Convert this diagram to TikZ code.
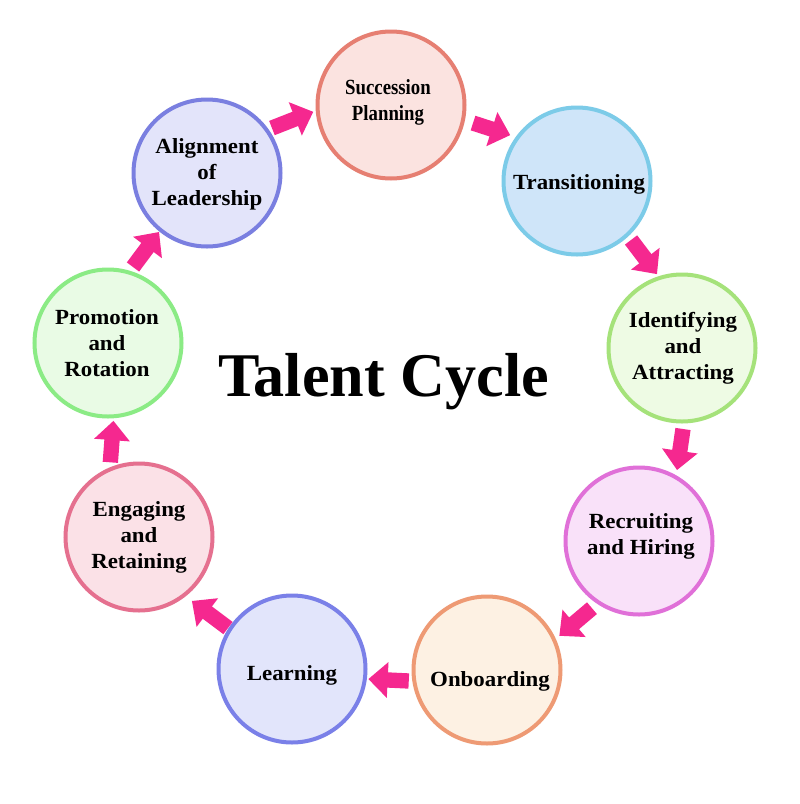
\documentclass[tikz,border=0pt]{standalone}
\usepackage{fontspec}
\setmainfont{Liberation Serif}
\newfontfamily\labelfont[FakeStretch=1.06]{Liberation Serif}
\newfontfamily\narrowfont[FakeStretch=0.87]{Liberation Serif}
\usetikzlibrary{arrows.meta}
\definecolor{arrowpink}{HTML}{F5288F}
\tikzset{
  cyc/.style 2 args={circle,draw=#1,fill=#2,line width=3pt,minimum size=147*0.75pt,inner sep=0pt},
  cyctext/.style={align=center,inner sep=0pt,text=black,font=\labelfont\fontsize{16.2}{19.5}\selectfont\bfseries},
  titletext/.style={inner sep=0pt,text=black,font=\fontsize{46.6}{50}\selectfont\bfseries},
  blockarrow/.style={draw=arrowpink,line width=11.5pt,
    -{Triangle[length=14.5pt,width=26pt,fill=arrowpink]}}
}
\newcommand{\cyclenode}[8]{%
  \definecolor{#1stroke}{HTML}{#4}\definecolor{#1fill}{HTML}{#5}%
  \node[cyc={#1stroke}{#1fill}] (#1) at (#2,-#3) {};
  \node[cyctext] (#1t) at (#6,-#7) {#8};}
\newcommand{\cycarrow}[6]{%
  \draw[blockarrow] ([shift={(#2:#3)}]#1.center) -- ([shift={(#5:#6)}]#4.center);}
\begin{document}
\begin{tikzpicture}[x=0.75pt,y=0.75pt]
\useasboundingbox[fill=white] (0,0) rectangle (800,-804);
\cyclenode{S}{391}{105}{E67F72}{FBE3E0}{388}{102}{\narrowfont\bfseries Succession\\\narrowfont\bfseries Planning}
\cyclenode{T}{577}{181}{7CCBE8}{CFE5F9}{579}{184}{Transitioning}
\cyclenode{I}{682}{348}{A5E27A}{EEFBE4}{683}{348}{Identifying\\and\\Attracting}
\cyclenode{R}{639}{541}{E070D8}{F9E1F9}{641}{536}{Recruiting\\and Hiring}
\cyclenode{O}{487}{670}{EE9A74}{FDF1E3}{490}{681}{Onboarding}
\cyclenode{L}{292}{669}{7A80E8}{E2E5FB}{292}{675}{Learning}
\cyclenode{E}{139}{537}{E5708F}{FBE1E7}{139}{537}{Engaging\\and\\Retaining}
\cyclenode{P}{108}{343}{8BEB85}{E9FBE5}{107}{343}{Promotion\\and\\Rotation}
\cyclenode{A}{207}{173}{7A7FE0}{E3E4FA}{207}{174}{Alignment\\of\\Leadership}
\node[titletext] (title) at (383.5,-382) {Talent Cycle};
\cycarrow{A}{34.7}{79}{S}{185}{78}
\cycarrow{S}{-12.4}{84}{T}{145.5}{81}
\cycarrow{T}{-47.5}{80}{I}{108.7}{78}
\cycarrow{I}{-89.3}{81}{R}{61.8}{80.5}
\cycarrow{R}{235}{82}{O}{25.3}{80}
\cycarrow{O}{188}{79}{L}{-7.5}{77}
\cycarrow{L}{147.4}{76}{E}{-50.4}{83}
\cycarrow{E}{111}{80}{P}{-86}{78}
\cycarrow{P}{71.8}{80}{A}{230.9}{76}
\end{tikzpicture}
\end{document}
